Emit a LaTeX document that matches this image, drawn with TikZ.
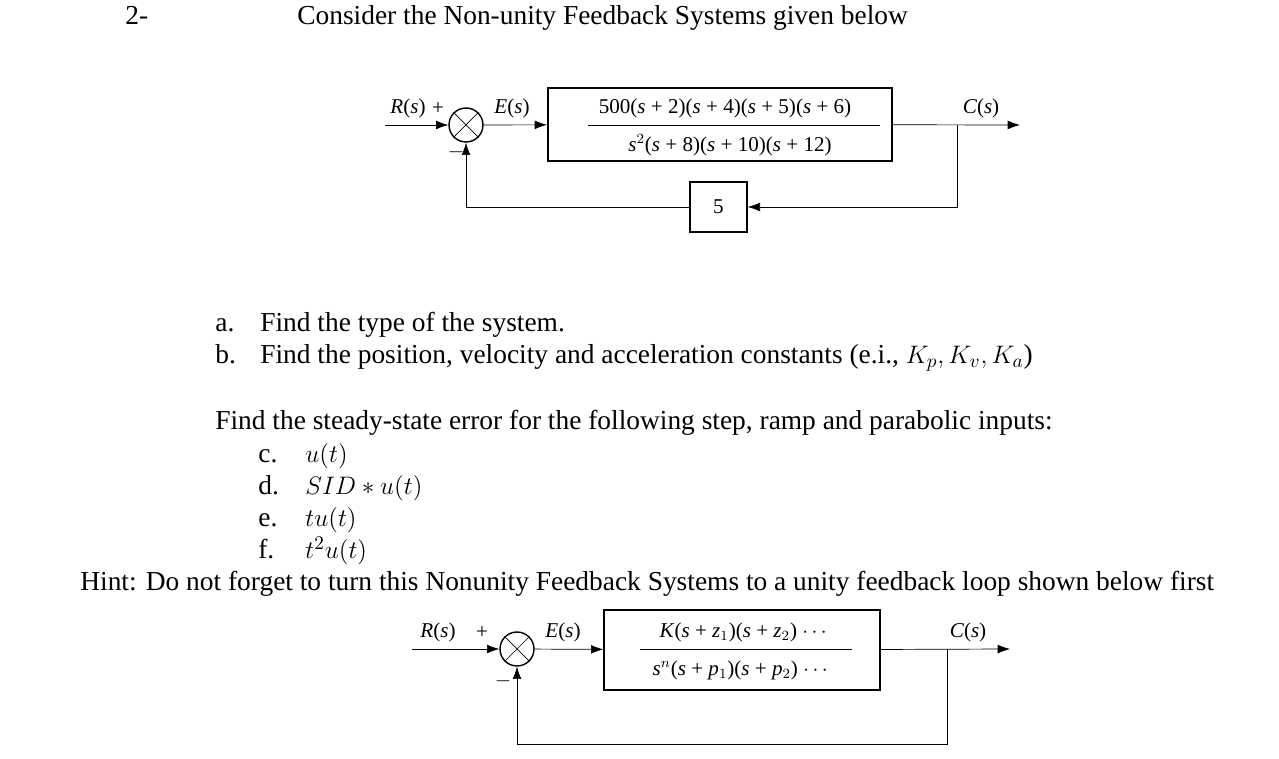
\documentclass[tikz,border=0pt]{standalone}
\usepackage{amsmath}
\usepackage{fontspec}
\setmainfont{Liberation Serif}
\usetikzlibrary{arrows.meta,positioning}
\newcommand{\vs}{\textit{s}}

\begin{document}
\begin{tikzpicture}[
    x=0.02cm, y=-0.02cm,
    sumcircle/.style={
        circle,
        draw=black,
        thick,
        inner sep=0pt,
        minimum size=0.68cm},
    plantbox/.style={
        draw=black,
        very thick,
        inner sep=0pt},
    mylabel/.style={
        font=\fontsize{12}{14}\selectfont},
    mytext/.style={
        anchor=base west,
        inner sep=0pt,
        font=\fontsize{15.6}{18}\selectfont},
    myarrow/.style={-{Latex[length=7pt,width=5pt]}},
    myline/.style={-}
]
\useasboundingbox (0,0) rectangle (1279,759);

% heading
\node[mytext] (num) at (125,25) {2-};
\node[mytext] (title) at (297,25) {Consider the Non-unity Feedback Systems given below};

% first loop
\coordinate (r1) at (385,125);
\node[sumcircle] (s1) at (466,125) {};
\draw (s1.north east) -- (s1.south west) (s1.north west) -- (s1.south east);
\node[plantbox, minimum width=6.88cm, minimum height=1.46cm] (g1) at (720,124.5) {};
\draw (588,125) -- (880,125);
\node[mylabel] (num1) at (725,108) {500(\vs{} + 2)(\vs{} + 4)(\vs{} + 5)(\vs{} + 6)};
\node[mylabel] (den1) at (730,145) {\vs$^2$(\vs{} + 8)(\vs{} + 10)(\vs{} + 12)};
\coordinate (c1) at (1020,125);
\coordinate (b1) at (957,125);
\node[plantbox, thick, minimum width=1.14cm, minimum height=1cm, mylabel] (h1) at (718.5,207) {5};
\coordinate (k1) at (957,207);
\coordinate (m1) at (466,207);

\draw[myarrow] (r1) -- (s1);
\draw[myarrow] (s1) -- (g1);
\draw[myarrow] (g1) -- (c1);
\draw[myarrow] (b1) -- (k1) -- (h1);
\draw[myarrow] (h1) -- (m1) -- (s1);

\node[mylabel] (lr1) at (408,108) {\textit{R}(\vs)};
\node[mylabel] (lp1) at (438,109) {+};
\node[mylabel] (le1) at (512,108) {\textit{E}(\vs)};
\node[mylabel] (lc1) at (981,108) {\textit{C}(\vs)};
\node[mylabel] (lm1) at (456,152) {$-$};

% questions
\node[mytext] (qa) at (215,332) {a.};
\node[mytext] (ta) at (260,332) {Find the type of the system.};
\node[mytext] (qb) at (215,364) {b.};
\node[mytext] (tb) at (260,364) {Find the position, velocity and acceleration constants (e.i., $K_p, K_v, K_a$)};
\node[mytext] (tsse) at (215,430) {Find the steady-state error for the following step, ramp and parabolic inputs:};
\node[mytext] (qc) at (258,463) {c.};
\node[mytext] (tc) at (305,463) {$u(t)$};
\node[mytext] (qd) at (258,495) {d.};
\node[mytext] (td) at (305,495) {$SID * u(t)$};
\node[mytext] (qe) at (258,527) {e.};
\node[mytext] (te) at (305,527) {$tu(t)$};
\node[mytext] (qf) at (258,559) {f.};
\node[mytext] (tf) at (305,559) {$t^2u(t)$};
\node[mytext] (hint) at (80,591) {Hint: Do not forget to turn this Nonunity Feedback Systems to a unity feedback loop shown below first};

% second loop
\coordinate (r2) at (412,649);
\node[sumcircle] (s2) at (517,649) {};
\draw (s2.north east) -- (s2.south west) (s2.north west) -- (s2.south east);
\node[plantbox, thick, minimum width=5.52cm, minimum height=1.6cm] (g2) at (742,650) {};
\draw (640,649) -- (852,649);
\node[mylabel] (num2) at (745,632) {\textit{K}(\vs{} + \textit{z}$_1$)(\vs{} + \textit{z}$_2$) $\cdots$};
\node[mylabel] (den2) at (742,670) {\vs$^n$(\vs{} + \textit{p}$_1$)(\vs{} + \textit{p}$_2$) $\cdots$};
\coordinate (c2) at (1010,649);
\coordinate (b2) at (947,649);
\coordinate (k2) at (947,744);
\coordinate (m2) at (517,744);

\draw[myarrow] (r2) -- (s2);
\draw[myarrow] (s2) -- (g2);
\draw[myarrow] (g2) -- (c2);
\draw[myarrow] (b2) -- (k2) -- (m2) -- (s2);

\node[mylabel] (lr2) at (438,632) {\textit{R}(\vs)};
\node[mylabel] (lp2) at (482,633) {+};
\node[mylabel] (le2) at (563,632) {\textit{E}(\vs)};
\node[mylabel] (lc2) at (968,632) {\textit{C}(\vs)};
\node[mylabel] (lm2) at (503,681) {$-$};
\end{tikzpicture}
\end{document}
